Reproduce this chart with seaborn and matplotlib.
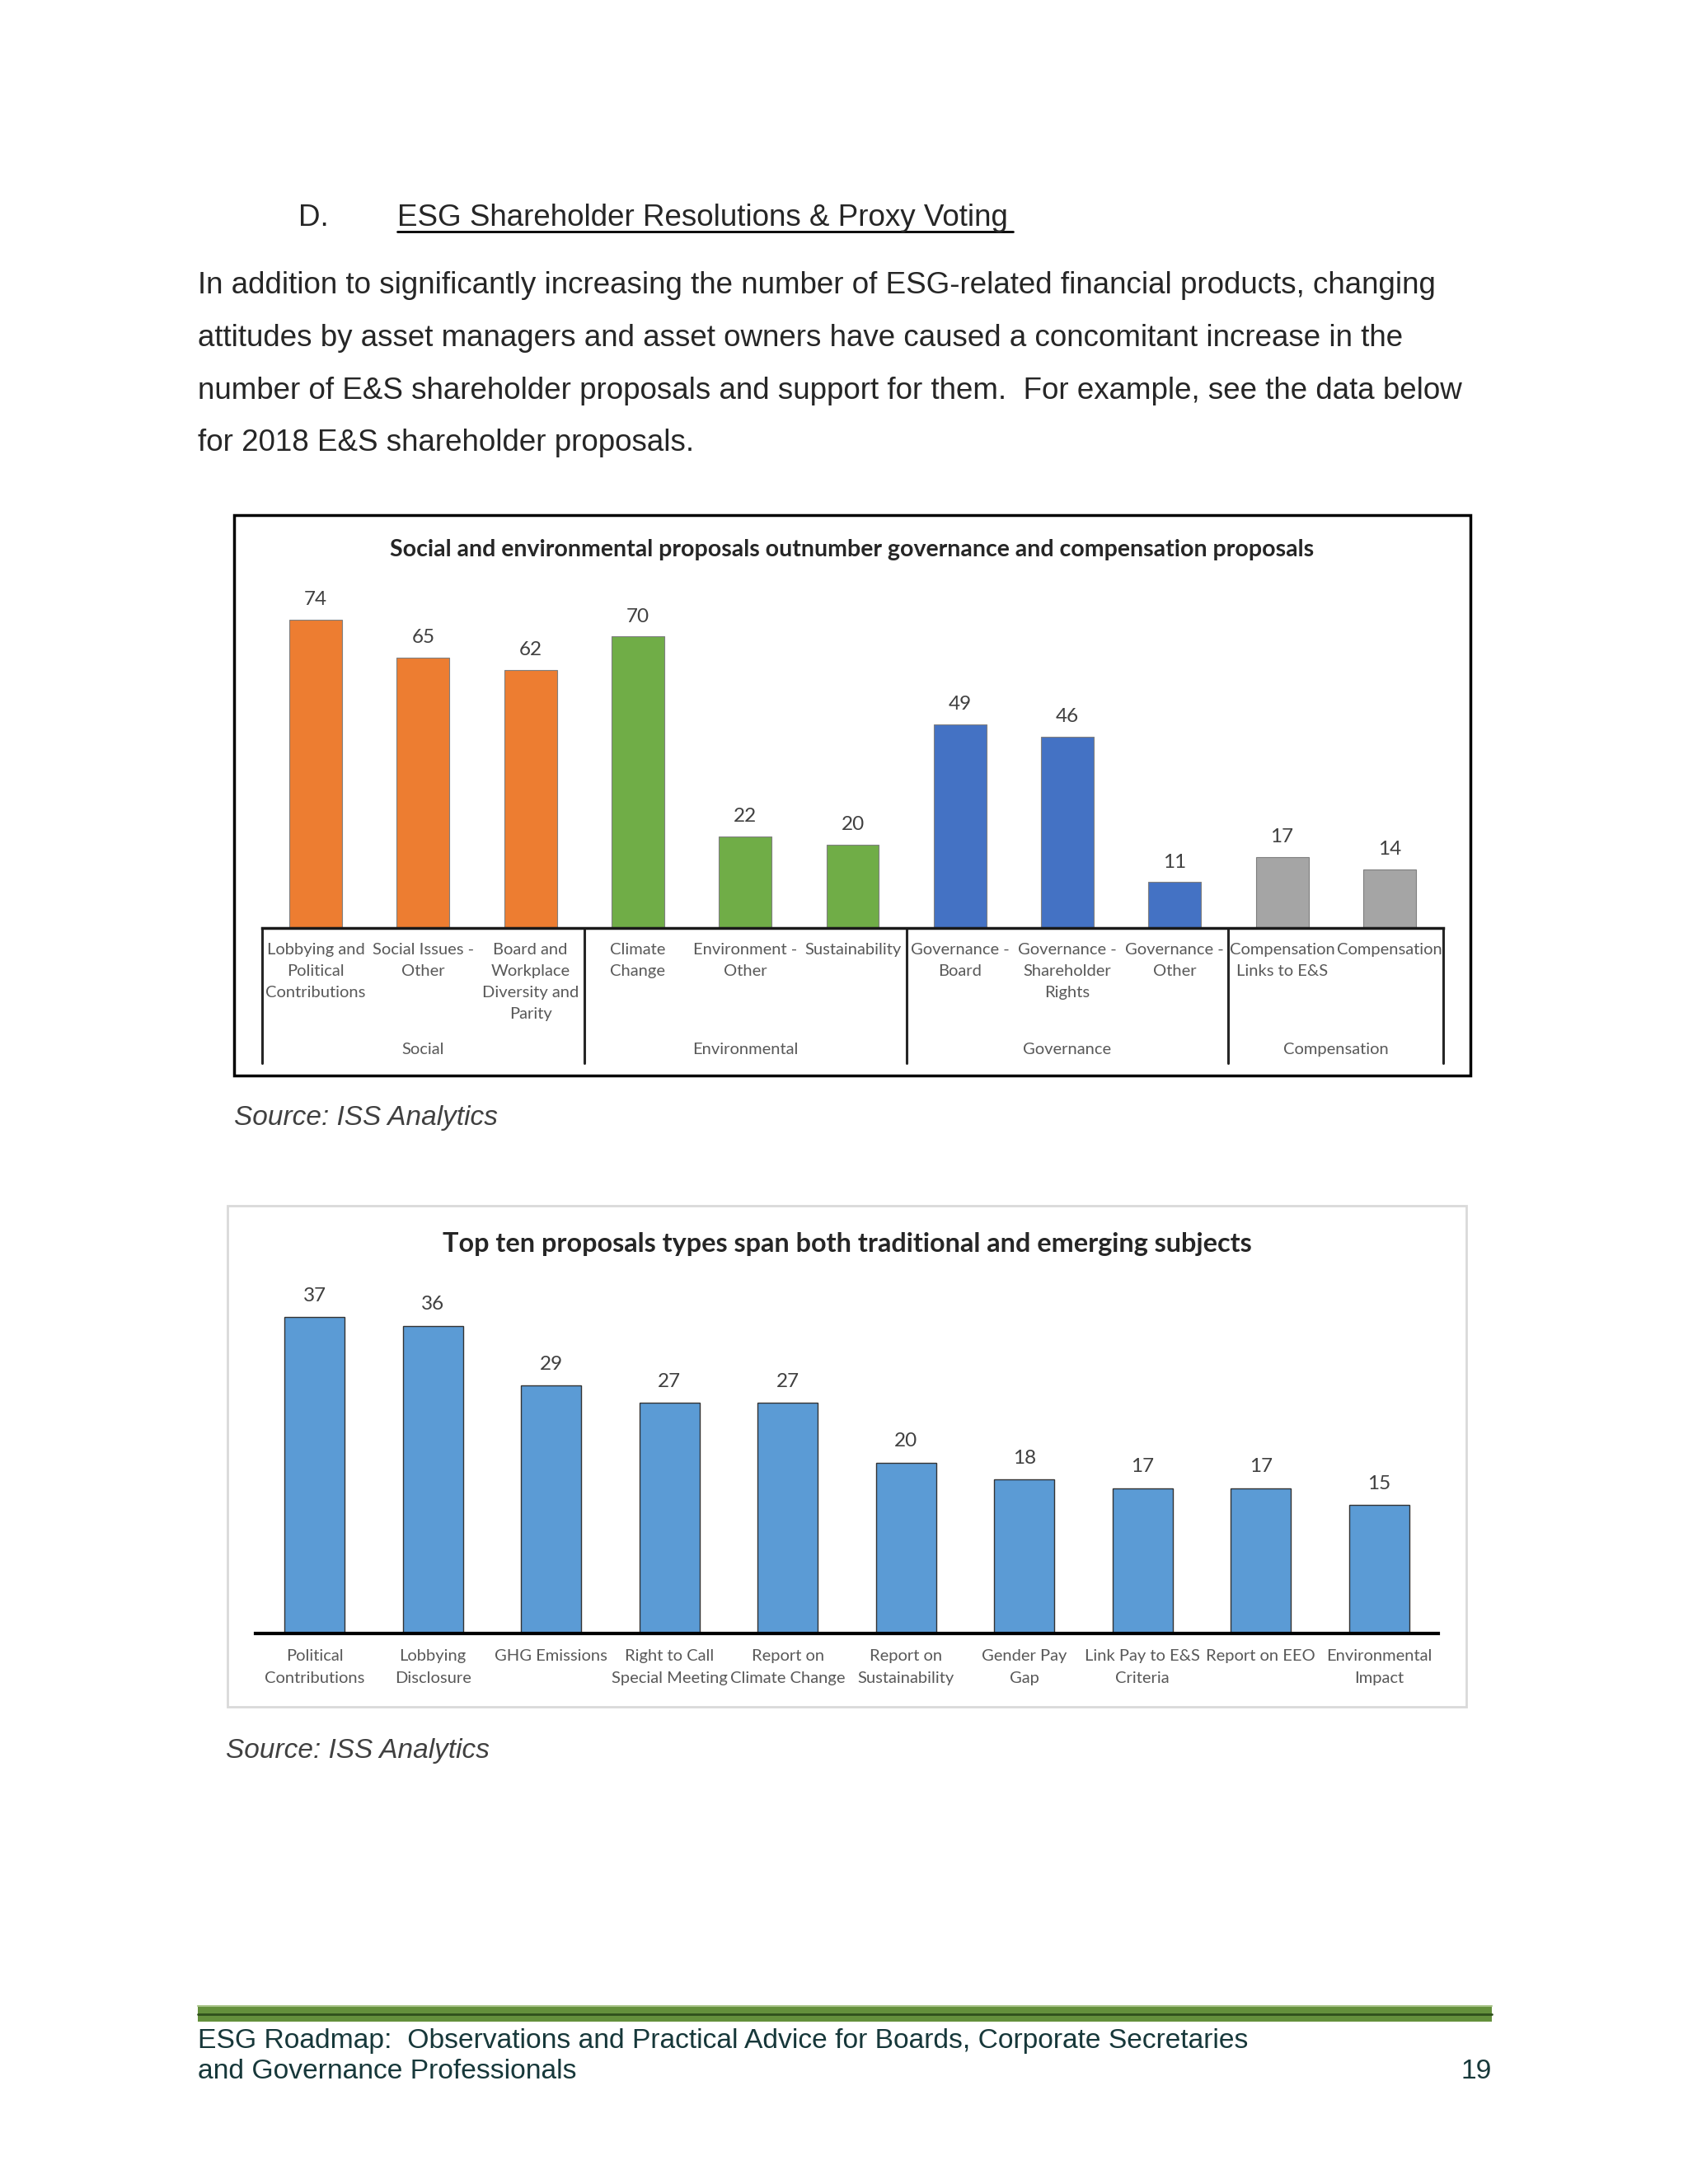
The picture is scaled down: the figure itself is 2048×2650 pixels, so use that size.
import seaborn as sns
import pandas as pd
import matplotlib.pyplot as plt
import matplotlib.transforms as mtransforms
from matplotlib.patches import Rectangle

# --- data: chart 1 (proposal counts by category) ---
cat_labels = ['Lobbying and\nPolitical\nContributions', 'Social Issues -\nOther',
              'Board and\nWorkplace\nDiversity and\nParity', 'Climate\nChange',
              'Environment -\nOther', 'Sustainability', 'Governance -\nBoard',
              'Governance -\nShareholder\nRights', 'Governance -\nOther',
              'Compensation\nLinks to E&S', 'Compensation']
cat_counts = [74, 65, 62, 70, 22, 20, 49, 46, 11, 17, 14]
cat_groups = ['Social', 'Social', 'Social', 'Environmental', 'Environmental',
              'Environmental', 'Governance', 'Governance', 'Governance',
              'Compensation', 'Compensation']
group_colors = {'Social': '#ED7D31', 'Environmental': '#70AD47',
                'Governance': '#4472C4', 'Compensation': '#A5A5A5'}

# --- data: chart 2 (top ten proposal types) ---
top_labels = ['Political\nContributions', 'Lobbying\nDisclosure', 'GHG Emissions',
              'Right to Call\nSpecial Meeting', 'Report on\nClimate Change',
              'Report on\nSustainability', 'Gender Pay\nGap', 'Link Pay to E&S\nCriteria',
              'Report on EEO', 'Environmental\nImpact']
top_counts = [37, 36, 29, 27, 27, 20, 18, 17, 17, 15]

W, H = 2048, 2650
sns.set_style('white')
plt.rcParams['font.family'] = ['Liberation Sans', 'DejaVu Sans']
CH = ['Lato', 'DejaVu Sans']
TICK = '#595959'

fig = plt.figure(figsize=(W / 100, H / 100), dpi=100)
fig.patch.set_facecolor('white')


def px_axes(left, top, right, bottom):
    return fig.add_axes([left / W, 1 - bottom / H, (right - left) / W, (bottom - top) / H])


def ftext(x, y, s, **kw):
    fig.text(x / W, 1 - y / H, s, **kw)


# --- page text ---
ftext(362, 264, 'D.', fontsize=26.5, va='center')
ftext(482, 264, 'ESG Shareholder Resolutions & Proxy Voting', fontsize=26.5, va='center')
fig.add_artist(plt.Line2D([482 / W, 1229 / W], [1 - 281 / H, 1 - 281 / H], color='black', lw=2))
para = ['In addition to significantly increasing the number of ESG-related financial products, changing',
        'attitudes by asset managers and asset owners have caused a concomitant increase in the',
        'number of E&S shareholder proposals and support for them.  For example, see the data below',
        'for 2018 E&S shareholder proposals.']
for i, line in enumerate(para):
    ftext(240, 347 + i * 63.5, line, fontsize=26.5, va='center')

# --- chart 1 frame ---
fig.add_artist(Rectangle((284 / W, 1 - 1305 / H), 1500 / W, 680 / H, transform=fig.transFigure,
                         fill=False, edgecolor='black', lw=2.5))
ftext(1034, 667, 'Social and environmental proposals outnumber governance and compensation proposals',
      fontsize=20.5, fontweight='bold', family=CH, color='#262626', ha='center', va='center')

df1 = pd.DataFrame({'label': cat_labels, 'count': cat_counts, 'group': cat_groups})
ax1 = px_axes(318, 722, 1751, 1126)
sns.barplot(data=df1, x='label', y='count', hue='group', palette=group_colors, dodge=False,
            width=0.49, legend=False, ax=ax1, edgecolor='#7f7f7f', linewidth=0.8, saturation=1)
ax1.set_xlim(-0.5, len(cat_labels) - 0.5)
ax1.set_ylim(0, 80)
for c in ax1.containers:
    ax1.bar_label(c, padding=10, fontsize=17.5, family=CH, color='#404040')
for s in ['top', 'left', 'right']:
    ax1.spines[s].set_visible(False)
ax1.spines['bottom'].set_color('#1a1a1a')
ax1.spines['bottom'].set_linewidth(2.5)
ax1.set_yticks([])
ax1.set_xlabel('')
ax1.set_ylabel('')
ax1.set_xticks(range(len(cat_labels)))
ax1.set_xticklabels(cat_labels, fontsize=14.5, family=CH, color=TICK, linespacing=1.65, va='top')
ax1.tick_params(axis='x', length=0, pad=13)

# multi-level category axis: dividers and group names
trans = mtransforms.blended_transform_factory(ax1.transData, ax1.transAxes)
group_order = list(dict.fromkeys(cat_groups))
bounds = [-0.5]
for g in group_order:
    idx = [i for i, gg in enumerate(cat_groups) if gg == g]
    bounds.append(max(idx) + 0.5)
    ax1.text(sum(idx) / len(idx), -0.364, g, transform=trans, ha='center', va='center',
             fontsize=14.5, family=CH, color=TICK)
for b in bounds:
    ax1.plot([b, b], [0, -0.406], transform=trans, clip_on=False, color='#262626', lw=2.2)

ftext(284, 1357, 'Source: ISS Analytics', fontsize=24, style='italic', color='#404040', va='center')

# --- chart 2 frame ---
fig.add_artist(Rectangle((276 / W, 1 - 2071 / H), 1503 / W, 608 / H, transform=fig.transFigure,
                         fill=False, edgecolor='#d9d9d9', lw=2))
ftext(1028, 1509, 'Top ten proposals types span both traditional and emerging subjects',
      fontsize=23.3, fontweight='bold', family=CH, color='#262626', ha='center', va='center')

df2 = pd.DataFrame({'label': top_labels, 'count': top_counts})
ax2 = px_axes(310, 1567, 1745, 1982)
sns.barplot(data=df2, x='label', y='count', color='#5B9BD5', width=0.51, ax=ax2,
            edgecolor='#333333', linewidth=1.0, saturation=1)
ax2.set_xlim(-0.5, len(top_labels) - 0.5)
ax2.set_ylim(0, 40)
for c in ax2.containers:
    ax2.bar_label(c, padding=11, fontsize=17.5, family=CH, color='#404040')
for s in ['top', 'left', 'right']:
    ax2.spines[s].set_visible(False)
ax2.spines['bottom'].set_color('black')
ax2.spines['bottom'].set_linewidth(3)
ax2.set_yticks([])
ax2.set_xlabel('')
ax2.set_ylabel('')
ax2.set_xticks(range(len(top_labels)))
ax2.set_xticklabels(top_labels, fontsize=14.5, family=CH, color=TICK, linespacing=1.65, va='top')
ax2.tick_params(axis='x', length=0, pad=14)

ftext(274, 2124, 'Source: ISS Analytics', fontsize=24, style='italic', color='#404040', va='center')

# --- footer ---
fig.add_artist(Rectangle((240 / W, 1 - 2453 / H), 1570 / W, 19 / H, transform=fig.transFigure,
                         facecolor='#64903c', edgecolor='none'))
fig.add_artist(plt.Line2D([240 / W, 1810 / W], [1 - 2434 / H, 1 - 2434 / H], color='#a9c48a', lw=1.5))
fig.add_artist(plt.Line2D([240 / W, 1810 / W], [1 - 2443.5 / H, 1 - 2443.5 / H], color='#2f4f1c', lw=2))
ftext(240, 2477, 'ESG Roadmap:  Observations and Practical Advice for Boards, Corporate Secretaries',
      fontsize=24.2, color='#17383a', va='center')
ftext(240, 2514, 'and Governance Professionals', fontsize=24.2, color='#17383a', va='center')
ftext(1810, 2514, '19', fontsize=24.2, color='#17383a', va='center', ha='right')

plt.savefig('out.png', dpi=100)
